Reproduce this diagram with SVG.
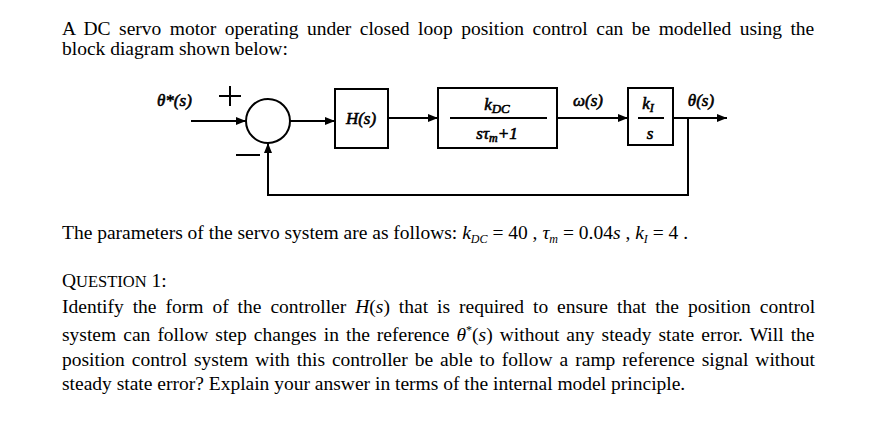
<svg xmlns="http://www.w3.org/2000/svg" width="875" height="423" viewBox="0 0 875 423">
<defs>
<marker id="ah" markerWidth="10" markerHeight="8" refX="10" refY="4" orient="auto" markerUnits="userSpaceOnUse"><path d="M0,0 L10,4 L0,8 z" fill="#000"/></marker>
</defs>
<style>
.t{font-family:"Liberation Serif",serif;font-size:19.5px;fill:#000}
.d{font-family:"Liberation Serif",serif;font-style:italic;font-size:17px;fill:#000;stroke:#000;stroke-width:0.6}
.b{fill:#fff;stroke:#000;stroke-width:2}
.c{fill:none;stroke:#000;stroke-width:2}
</style>
<rect width="875" height="423" fill="#fff"/>
<text class="t" x="62" y="35" word-spacing="3.6">A DC servo motor operating under closed loop position control can be modelled using the</text>
<text class="t" x="62" y="55">block diagram shown below:</text>
<g id="connectors">
<line class="c" x1="191" y1="121" x2="246" y2="121" marker-end="url(#ah)"/>
<line class="c" x1="290" y1="121" x2="335" y2="121" marker-end="url(#ah)"/>
<line class="c" x1="388" y1="118" x2="438" y2="118" marker-end="url(#ah)"/>
<line class="c" x1="557" y1="118" x2="628" y2="118" marker-end="url(#ah)"/>
<line class="c" x1="673" y1="118" x2="727" y2="118" marker-end="url(#ah)"/>
<polyline class="c" points="688,118 688,195 268,195 268,143" marker-end="url(#ah)"/>
</g>
<g id="input"><text class="d" x="157" y="106">θ*(s)</text></g>
<g id="sum">
<circle class="b" cx="268" cy="121" r="22"/>
<path class="c" d="M219,96 H241 M230,86 V106 M236,155 H260"/>
</g>
<g id="H"><rect class="b" x="335" y="89" width="53" height="59"/><text class="d" x="361" y="124" text-anchor="middle">H(s)</text></g>
<g id="motor"><rect class="b" x="438" y="88" width="119" height="60"/>
<line class="c" x1="450" y1="118" x2="547" y2="118"/>
<text class="d" x="497" y="110" text-anchor="middle">k<tspan font-size="13" dy="3">DC</tspan></text>
<text class="d" x="497" y="139" text-anchor="middle">sτ<tspan font-size="12" dy="3">m</tspan><tspan dy="-3">+1</tspan></text>
</g>
<g id="omega"><text class="d" x="588" y="106" text-anchor="middle">ω(s)</text></g>
<g id="integ"><rect class="b" x="628" y="88" width="45" height="57"/>
<line class="c" x1="638" y1="118" x2="664" y2="118"/>
<text class="d" x="648" y="109" text-anchor="middle">k<tspan font-size="12" dy="3">I</tspan></text>
<text class="d" x="650" y="139" text-anchor="middle">s</text>
</g>
<g id="output"><text class="d" x="701" y="106" text-anchor="middle">θ(s)</text></g>
<text class="t" x="62" y="239">The parameters of the servo system are as follows:  <tspan font-style="italic">k</tspan><tspan font-size="12" font-style="italic" dy="4">DC</tspan><tspan dy="-4"> = 40 ,  </tspan><tspan font-style="italic">τ</tspan><tspan font-size="12" font-style="italic" dy="4">m</tspan><tspan dy="-4"> = 0.04</tspan><tspan font-style="italic">s</tspan> ,  <tspan font-style="italic">k</tspan><tspan font-size="12" font-style="italic" dy="4">I</tspan><tspan dy="-4"> = 4 .</tspan></text>
<text class="t" x="62" y="287" font-size="21">Q<tspan font-size="16.5">UESTION</tspan> 1:</text>
<text class="t" x="62" y="313" word-spacing="4.1">Identify the form of the controller <tspan font-style="italic">H</tspan>(<tspan font-style="italic">s</tspan>) that is required to ensure that the position control</text>
<text class="t" x="62" y="341" word-spacing="2.2">system can follow step changes in the reference <tspan font-style="italic">θ</tspan><tspan font-size="12" dy="-7">*</tspan><tspan dy="7">(</tspan><tspan font-style="italic">s</tspan>) without any steady state error. Will the</text>
<text class="t" x="62" y="366" word-spacing="2.1">position control system with this controller be able to follow a ramp reference signal without</text>
<text class="t" x="62" y="390">steady state error? Explain your answer in terms of the internal model principle.</text>
</svg>
